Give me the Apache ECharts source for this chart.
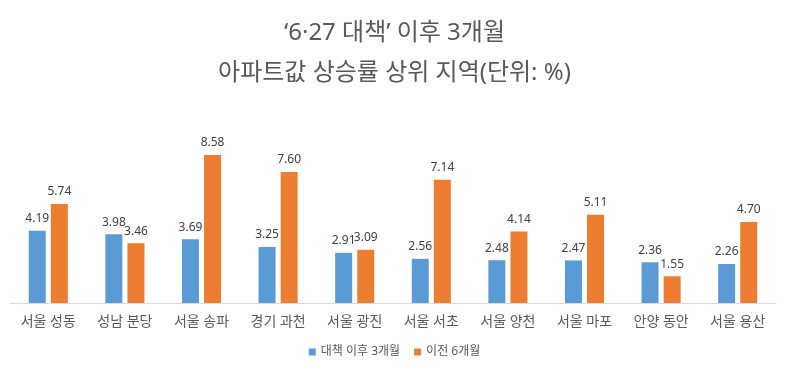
<!DOCTYPE html>
<html><head><meta charset="utf-8">
<script src="https://cdn.jsdelivr.net/npm/echarts@6/dist/echarts.min.js"></script>
<style>html,body{margin:0;padding:0;background:#fff}#c{width:789px;height:370px}</style>
</head><body><div id="c"></div>
<script>
const categories = ['서울 성동','성남 분당','서울 송파','경기 과천','서울 광진','서울 서초','서울 양천','서울 마포','안양 동안','서울 용산'];
const after3 = [4.19,3.98,3.69,3.25,2.91,2.56,2.48,2.47,2.36,2.26];
const before6 = [5.74,3.46,8.58,7.60,3.09,7.14,4.14,5.11,1.55,4.70];
const seriesNames = ['대책 이후 3개월','이전 6개월'];
const titleLines = ['‘6·27 대책’ 이후 3개월','아파트값 상승률 상위 지역(단위: %)'];
const FONT = '"Noto Sans","Noto Sans CJK KR",sans-serif';
const chart = echarts.init(document.getElementById('c'));
const lbl = {show:true, position:'top', distance:6, color:'#404040', fontSize:12, fontFamily:FONT, formatter:p=>p.value.toFixed(2)};
chart.setOption({
  animation:false,
  title:[
    {text:titleLines[0], left:'center', top:16, textStyle:{fontSize:24, fontWeight:'normal', color:'#595959', fontFamily:FONT}},
    {text:titleLines[1], left:'center', top:56, textStyle:{fontSize:24, fontWeight:'normal', color:'#595959', fontFamily:FONT}}
  ],
  legend:{bottom:7, left:'center', itemWidth:7, itemHeight:7, itemGap:14, icon:'rect',
    textStyle:{fontSize:12, color:'#595959', fontFamily:FONT}, data:seriesNames},
  grid:{left:10, right:13, top:130.5, bottom:67},
  xAxis:{type:'category', data:categories, axisTick:{show:false},
    axisLine:{lineStyle:{color:'#d9d9d9'}},
    axisLabel:{color:'#595959', fontSize:14, fontFamily:FONT, margin:12}},
  yAxis:{type:'value', min:0, max:10, show:false, splitLine:{show:false}},
  series:[
    {name:seriesNames[0], type:'bar', data:after3, barWidth:17, barGap:'30%', itemStyle:{color:'#5B9BD5'}, label:lbl},
    {name:seriesNames[1], type:'bar', data:before6, barWidth:17, itemStyle:{color:'#ED7D31'}, label:lbl}
  ]
});
</script></body></html>
